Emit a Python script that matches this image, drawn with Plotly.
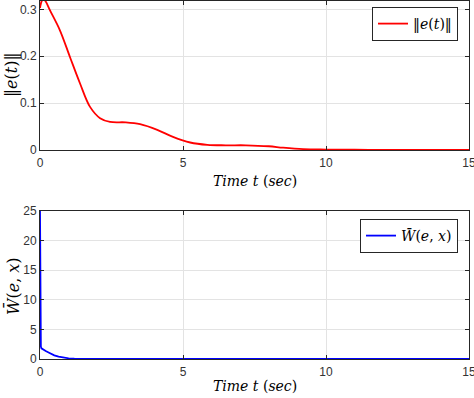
import plotly.graph_objects as go

# Data
t_e = [0, 0.06, 0.12, 0.2, 0.35, 0.7, 1.05, 1.4, 1.75, 2.1, 2.45, 3.0, 3.5, 4.1, 4.65, 5.25, 5.85, 6.5, 7.2, 8.0, 8.5, 9.2, 10.0, 11.0, 12.0, 13.0, 14.0, 15.0]
e_norm = [0.303, 0.318, 0.322, 0.317, 0.298, 0.255, 0.198, 0.142, 0.092, 0.068, 0.060, 0.059, 0.055, 0.043, 0.028, 0.016, 0.011, 0.010, 0.010, 0.008, 0.005, 0.002, 0.001, 0.0005, 0.0003, 0.0002, 0.0001, 0.0001]

t_w = [0, 0.005, 0.01, 0.02, 0.03, 0.05, 0.1, 0.2, 0.3, 0.4, 0.5, 0.65, 0.8, 1.0, 1.2, 1.5, 2.0, 3.0, 5.0, 10.0, 15.0]
w_bar = [25, 15, 8, 3.5, 2.1, 1.8, 1.6, 1.35, 1.1, 0.85, 0.62, 0.4, 0.25, 0.12, 0.05, 0.015, 0.004, 0.001, 0.0, 0.0, 0.0]

x_ticks = [0, 5, 10, 15]
x_ticktext = ["0", "5", "10", "15"]
y1_ticks = [0, 0.1, 0.2, 0.3]
y1_ticktext = ["0", "0.1", "0.2", "0.3"]
y2_ticks = [0, 5, 10, 15, 20, 25]
y2_ticktext = ["0", "5", "10", "15", "20", "25"]

W, H = 474, 398
ML, MR, MT, MB = 40, 5, 1, 39
PW, PH = W - ML - MR, H - MT - MB

def px_x(p):
    return (p - ML) / PW
def px_y(p):
    return (H - MB - p) / PH

axis_color = "#262626"
grid_color = "#e3e3e3"
tick_font = dict(family="Liberation Sans, Arial, sans-serif", size=12, color="#333333")
lab_font = dict(family="DejaVu Serif, Liberation Serif, serif", size=14, color="#000000")
ylab_font = dict(family="DejaVu Serif, Liberation Serif, serif", size=16, color="#000000")

fig = go.Figure()
fig.add_trace(go.Scatter(x=t_e, y=e_norm, mode="lines", line=dict(color="#ff0000", width=1.8, shape="spline"),
                         name="‖<i>e</i>(<i>t</i>)‖", xaxis="x", yaxis="y", legend="legend"))
fig.add_trace(go.Scatter(x=t_w, y=w_bar, mode="lines", line=dict(color="#0000ff", width=1.8),
                         name="<i>W̄</i>(<i>e</i>, <i>x</i>)", xaxis="x2", yaxis="y2", legend="legend2"))

common_x = dict(range=[0, 15], tickvals=x_ticks, ticktext=x_ticktext, showgrid=True, gridcolor=grid_color,
                showline=True, linecolor=axis_color, linewidth=1, mirror="ticks", ticks="inside", ticklen=4,
                tickcolor=axis_color, tickfont=tick_font, zeroline=False, domain=[px_x(40), px_x(469)],
                automargin=False, ticklabeloverflow="allow", ticklabelstandoff=2)
common_y = dict(showgrid=True, gridcolor=grid_color, showline=True, linecolor=axis_color, linewidth=1,
                mirror="ticks", ticks="inside", ticklen=4, tickcolor=axis_color, tickfont=tick_font, zeroline=False,
                automargin=False, ticklabeloverflow="allow")

fig.update_layout(
    width=W, height=H, margin=dict(l=ML, r=MR, t=MT, b=MB, autoexpand=False),
    paper_bgcolor="white", plot_bgcolor="white",
    xaxis=dict(**common_x, anchor="y"),
    yaxis=dict(**common_y, range=[0, 0.318], tickvals=y1_ticks, ticktext=y1_ticktext,
               domain=[px_y(150), px_y(1)], anchor="x"),
    xaxis2=dict(**common_x, anchor="y2"),
    yaxis2=dict(**common_y, range=[0, 25], tickvals=y2_ticks, ticktext=y2_ticktext,
                domain=[px_y(359), px_y(211)], anchor="x2"),
    legend=dict(x=px_x(458), y=px_y(7), xanchor="right", yanchor="top", bgcolor="white",
                bordercolor=axis_color, borderwidth=1, font=lab_font, tracegroupgap=0),
    legend2=dict(x=px_x(458), y=px_y(219), xanchor="right", yanchor="top", bgcolor="white",
                 bordercolor=axis_color, borderwidth=1, font=lab_font, tracegroupgap=0),
    showlegend=True,
    annotations=[
        dict(text="<i>Time t</i> (<i>sec</i>)", x=px_x(255), y=px_y(181), xref="paper", yref="paper",
             showarrow=False, font=lab_font, xanchor="center", yanchor="middle"),
        dict(text="<i>Time t</i> (<i>sec</i>)", x=px_x(255), y=px_y(386), xref="paper", yref="paper",
             showarrow=False, font=lab_font, xanchor="center", yanchor="middle"),
        dict(text="‖<i>e</i>(<i>t</i>)‖", x=px_x(12), y=px_y(75), xref="paper", yref="paper",
             showarrow=False, font=ylab_font, textangle=-90, xanchor="center", yanchor="middle"),
        dict(text="<i>W̄</i>(<i>e</i>, <i>x</i>)", x=px_x(12), y=px_y(286), xref="paper", yref="paper",
             showarrow=False, font=ylab_font, textangle=-90, xanchor="center", yanchor="middle"),
    ],
)

fig.write_html("out.html", config={"displayModeBar": False},
               post_script="document.body.style.margin='0';")
